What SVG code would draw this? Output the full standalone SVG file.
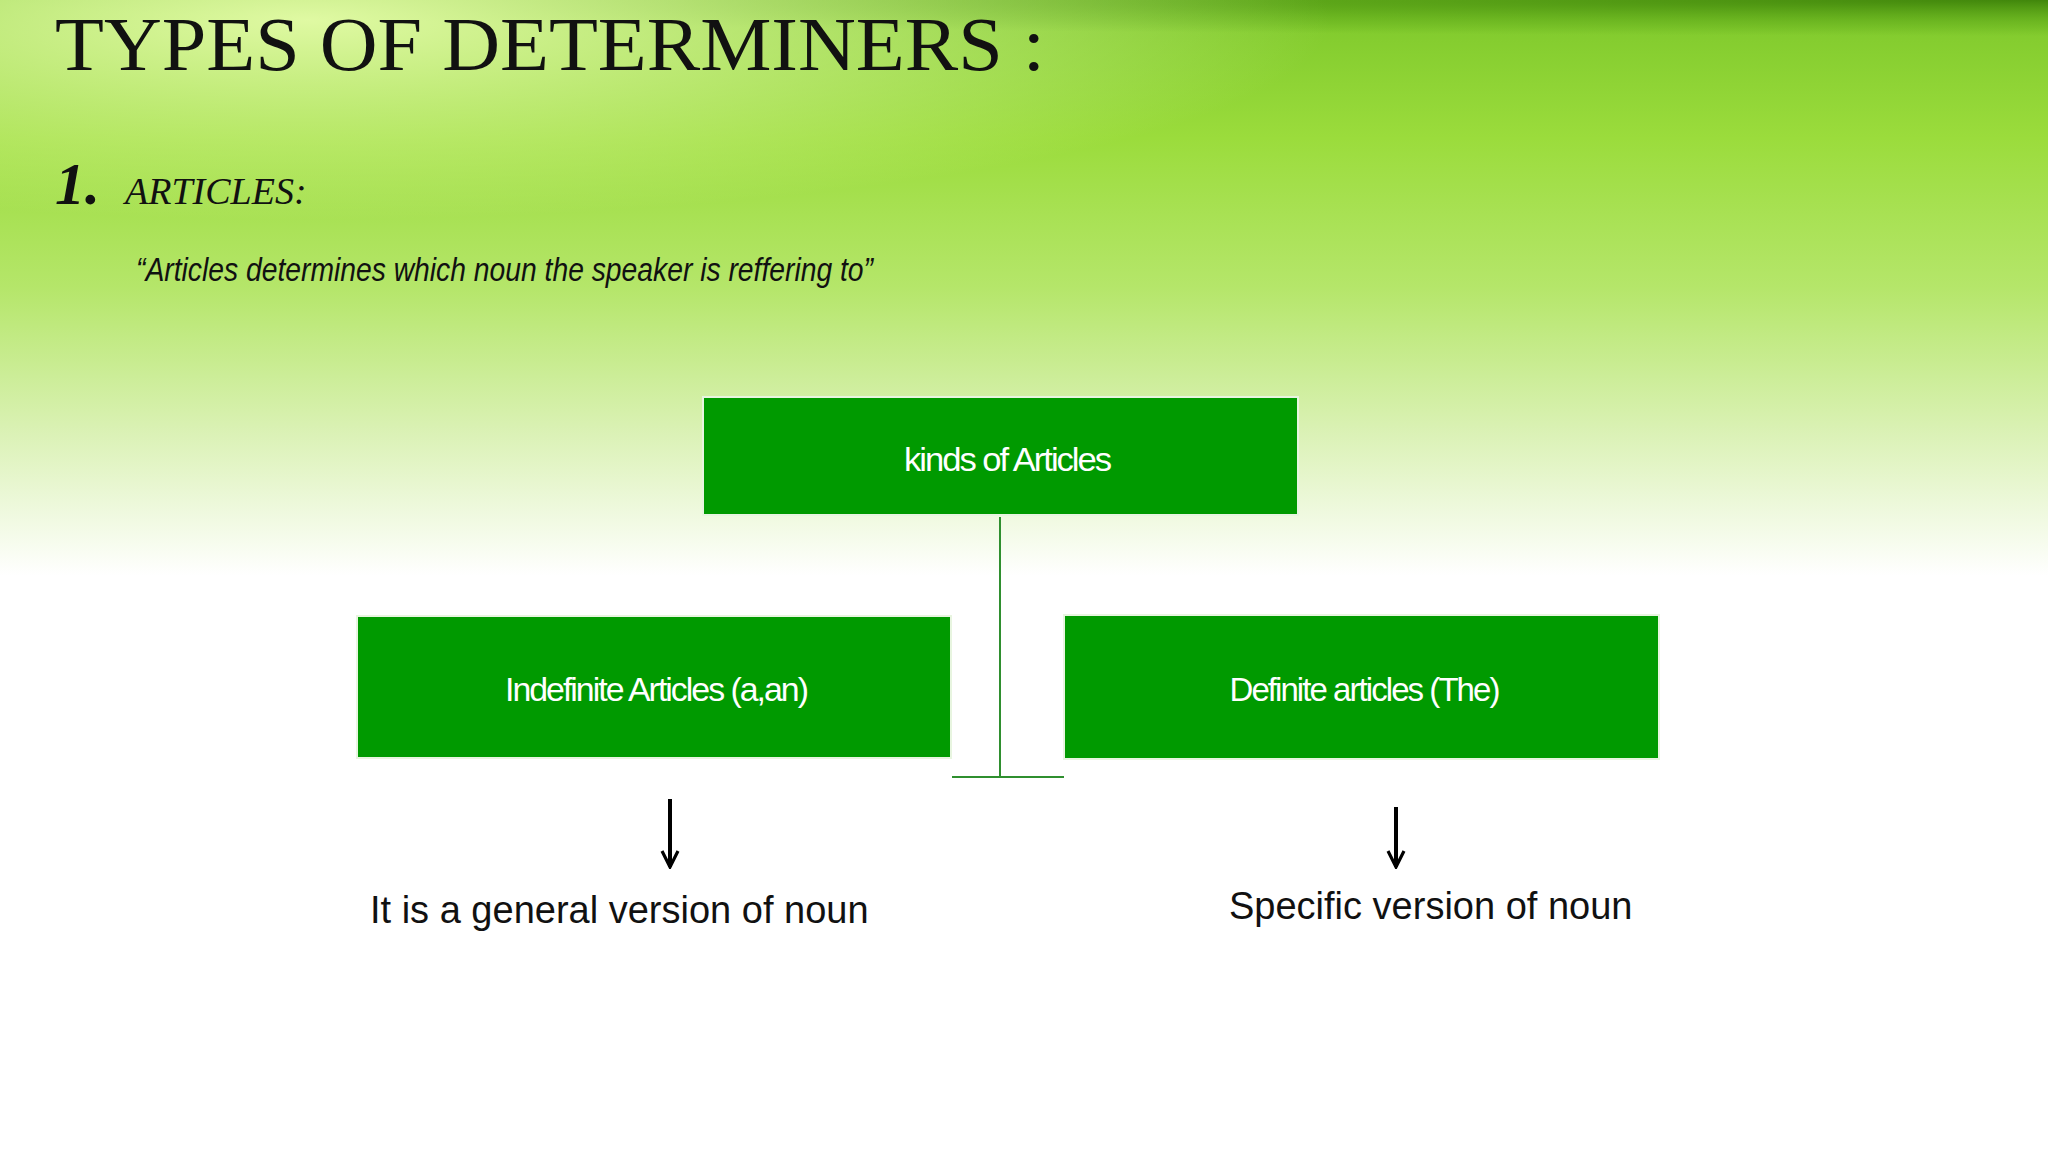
<svg xmlns="http://www.w3.org/2000/svg" width="2048" height="1152" viewBox="0 0 2048 1152">
<defs>
<linearGradient id="bg" x1="0" y1="0" x2="0" y2="1">
<stop offset="0" stop-color="#7cc72a"/>
<stop offset="0.12" stop-color="#9bdc3c"/>
<stop offset="0.25" stop-color="#b5e66a"/>
<stop offset="0.38" stop-color="#dcf2b8"/>
<stop offset="0.5" stop-color="#ffffff"/>
<stop offset="1" stop-color="#ffffff"/>
</linearGradient>
<radialGradient id="dark" cx="1" cy="0" r="1" gradientTransform="translate(0,0) scale(1,0.12)">
<stop offset="0" stop-color="#3a7f08" stop-opacity="0.9"/>
<stop offset="0.6" stop-color="#4f9a10" stop-opacity="0.4"/>
<stop offset="1" stop-color="#4f9a10" stop-opacity="0"/>
</radialGradient>
<radialGradient id="hl" cx="0.15" cy="0.05" r="0.5">
<stop offset="0" stop-color="#eaffb0" stop-opacity="0.9"/>
<stop offset="1" stop-color="#eaffb0" stop-opacity="0"/>
</radialGradient>
<marker id="ah" viewBox="0 0 10 10" refX="9" refY="5" markerWidth="5" markerHeight="5" orient="auto">
<path d="M1,1 L9,5 L1,9" fill="none" stroke="#000" stroke-width="1.6"/>
</marker>
<style>
.box{fill:#009a00;stroke:#e8f5e0;stroke-width:2}
.bt{fill:#fff;font-family:"Liberation Sans Narrow","Liberation Sans",sans-serif;font-size:34px;text-anchor:middle;letter-spacing:-2px}
.conn{stroke:#2f8f2f;stroke-width:2;fill:none}
.arr{stroke:#000;stroke-width:4;fill:none}
.desc{font-family:"Liberation Sans",Arial,sans-serif;font-size:38px;fill:#111}
</style>
</defs>
<rect width="2048" height="1152" fill="url(#bg)"/>
<rect width="2048" height="300" fill="url(#dark)"/>
<rect width="2048" height="400" fill="url(#hl)"/>
<text x="55" y="70" font-family="Liberation Serif,serif" font-size="76" textLength="990" lengthAdjust="spacingAndGlyphs" fill="#111">TYPES OF DETERMINERS :</text>
<text x="55" y="204" font-family="Liberation Serif,serif" font-style="italic" font-weight="bold" font-size="60" fill="#111">1.</text>
<text x="125" y="204" font-family="Liberation Serif,serif" font-style="italic" font-size="38" fill="#111">ARTICLES:</text>
<text x="136" y="281" font-family="Liberation Sans Narrow,Liberation Sans,sans-serif" font-style="italic" font-size="34" textLength="737" lengthAdjust="spacingAndGlyphs" fill="#111">“Articles determines which noun the speaker is reffering to”</text>
<g id="connectors">
<path class="conn" d="M1000,517 V777 M952,777 H1064"/>
<line class="arr" x1="670" y1="799" x2="670" y2="867" marker-end="url(#ah)"/>
<line class="arr" x1="1396" y1="807" x2="1396" y2="867" marker-end="url(#ah)"/>
</g>
<g id="kinds"><rect class="box" x="703" y="397" width="595" height="118"/><text class="bt" x="1007" y="471" textLength="206" lengthAdjust="spacingAndGlyphs">kinds of Articles</text></g>
<g id="indef"><rect class="box" x="357" y="616" width="594" height="142"/><text class="bt" x="656" y="701" textLength="302" lengthAdjust="spacingAndGlyphs">Indefinite Articles (a,an)</text></g>
<g id="def"><rect class="box" x="1064" y="615" width="595" height="144"/><text class="bt" x="1364" y="701" textLength="269" lengthAdjust="spacingAndGlyphs">Definite articles (The)</text></g>
<g id="desc1"><text class="desc" x="370" y="923">It is a general version of noun</text></g>
<g id="desc2"><text class="desc" x="1229" y="919">Specific version of noun</text></g>
</svg>
